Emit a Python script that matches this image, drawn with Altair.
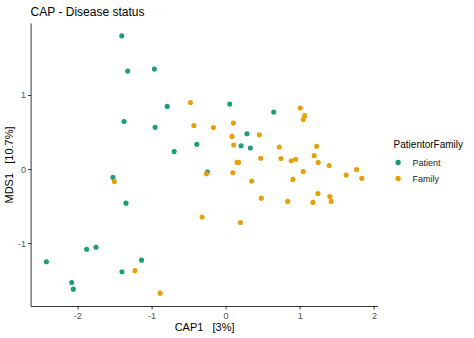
import altair as alt
import pandas as pd

patient_x = [-1.40, -1.32, -0.96, -0.787, 0.056, -1.37, -0.949, 0.209, -0.388, -0.693,
             0.649, 0.289, 0.334, -0.245, -1.518, -1.343, -2.416, -1.873, -1.747, -1.133,
             -1.397, -2.075, -2.053]
patient_y = [1.795, 1.32, 1.347, 0.844, 0.875, 0.64, 0.564, 0.315, 0.333, 0.235,
             0.768, 0.475, 0.284, -0.04, -0.112, -0.459, -1.249, -1.08, -1.053, -1.227,
             -1.383, -1.529, -1.618]
family_x = [-0.474, -0.428, -0.164, 0.105, 0.087, 0.11, 0.155, 0.175, 1.007, 1.066,
            1.047, 0.455, 0.724, 1.227, 1.195, 0.474, 0.747, 0.886, 0.945, 1.249,
            1.397, 1.766, 1.626, 1.837, -0.258, 0.097, 1.047, 0.353, 0.908, 1.245,
            1.406, 0.482, 0.837, 1.178, 1.424, -0.316, 0.2, -1.50, -1.222, -0.882]
family_y = [0.897, 0.587, 0.56, 0.62, 0.44, 0.324, 0.09, 0.09, 0.822, 0.72,
            0.667, 0.461, 0.297, 0.306, 0.182, 0.146, 0.142, 0.111, 0.133, 0.088,
            0.048, -0.005, -0.08, -0.125, -0.063, -0.049, -0.032, -0.16, -0.139, -0.329,
            -0.369, -0.392, -0.436, -0.449, -0.436, -0.645, -0.72, -0.169, -1.369, -1.672]
groups = ["Patient", "Family"]
colors = ["#1B9E77", "#E6A00A"]
x_ticks = [-2, -1, 0, 1, 2]
y_ticks = [-1, 0, 1]

df = pd.DataFrame({
    "CAP1": patient_x + family_x,
    "MDS1": patient_y + family_y,
    "PatientorFamily": [groups[0]] * len(patient_x) + [groups[1]] * len(family_x),
})

FONT = "Liberation Sans"
NB = "\u00a0"

chart = alt.Chart(df).mark_circle(size=26, opacity=1).encode(
    x=alt.X("CAP1:Q",
            scale=alt.Scale(domain=[-2.629, 2.05], nice=False, zero=False),
            axis=alt.Axis(values=x_ticks, title=f"CAP1{NB*3}[3%]", grid=False,
                          labelExpr="'' + datum.value")),
    y=alt.Y("MDS1:Q",
            scale=alt.Scale(domain=[-1.845, 1.968], nice=False, zero=False),
            axis=alt.Axis(values=y_ticks, title=f"MDS1{NB*3}[10.7%]", grid=False,
                          labelExpr="'' + datum.value")),
    color=alt.Color("PatientorFamily:N",
                    scale=alt.Scale(domain=groups, range=colors),
                    legend=alt.Legend(orient="none", legendX=363, legendY=117,
                                      symbolType="circle", symbolSize=28,
                                      titleFontSize=10, labelFontSize=9,
                                      titleFont=FONT, labelFont=FONT,
                                      titleColor="#000", labelColor="#222",
                                      titleFontWeight="normal", rowPadding=6,
                                      titlePadding=8, labelOffset=10)),
).properties(
    width=347, height=283,
    title=alt.TitleParams("CAP - Disease status", anchor="start", frame="group",
                          fontSize=12, font=FONT, fontWeight="normal", color="#000",
                          baseline="alphabetic", offset=8, dy=13),
    autosize=alt.AutoSizeParams(type="none"),
    padding={"left": 30.6, "top": 23, "right": 96.4, "bottom": 32},
).configure_view(stroke=None).configure_axis(
    domainColor="#000", domainWidth=0.8, tickColor="#333", tickSize=3,
    labelColor="#4D4D4D", labelFontSize=9, labelFont=FONT, labelPadding=2,
    titleFont=FONT, titleFontSize=11, titleFontWeight="normal", titleColor="#000",
).configure_axisY(titlePadding=3).configure_axisX(titlePadding=1)

chart.save("out.html", embed_options={"renderer": "svg", "actions": False})
